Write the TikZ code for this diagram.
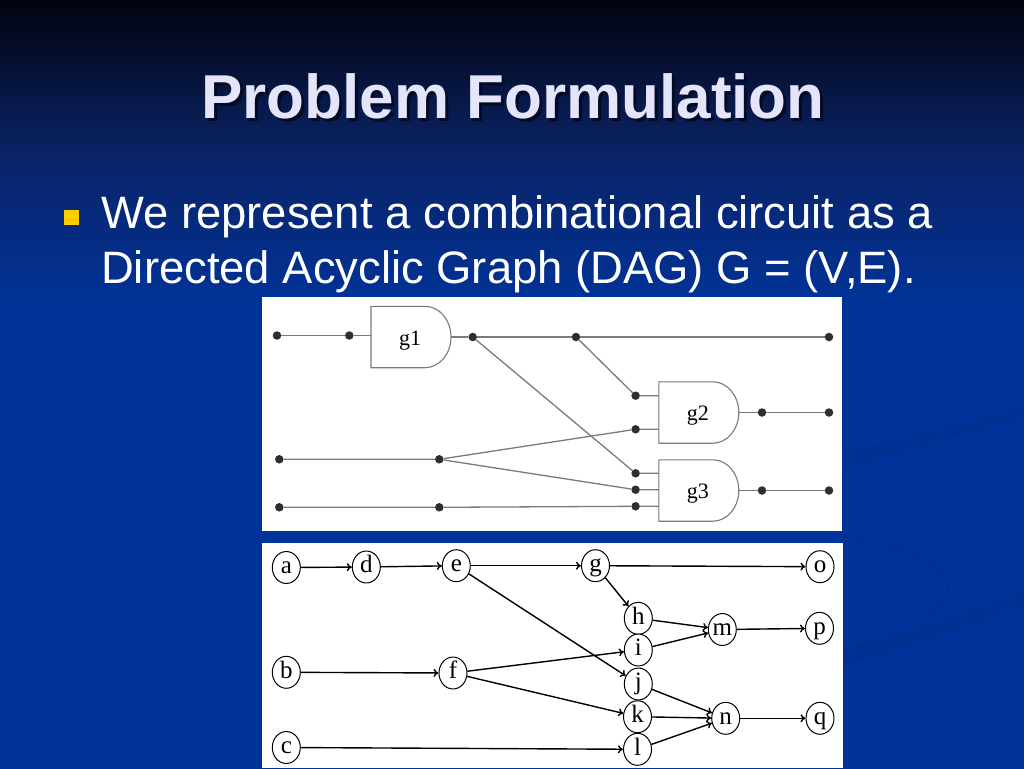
\documentclass[tikz,border=0pt]{standalone}
\usepackage{fontspec}
\setmainfont{Liberation Sans}
\newfontfamily\graphfont{Liberation Serif}
\usepackage{xcolor}
\usepackage{tikz}
\usetikzlibrary{shapes.geometric, arrows.meta, calc}
\definecolor{bgblue}{HTML}{003399}
\definecolor{bgmid}{HTML}{0B2366}
\definecolor{bgtop}{HTML}{01030F}
\definecolor{swoosh}{HTML}{002B86}
\definecolor{titlecol}{HTML}{E4E4FA}
\definecolor{shadowcol}{HTML}{020A24}
\definecolor{bulletcol}{HTML}{FFCC00}
\definecolor{wirecol}{HTML}{7A7A7A}
\definecolor{dotcol}{HTML}{2E2E2E}
\pgfdeclareverticalshading{slidebg}{100bp}{color(0bp)=(bgblue); color(25bp)=(bgblue); color(55bp)=(bgblue); color(65bp)=(bgmid); color(75bp)=(bgtop); color(100bp)=(bgtop)}

\begin{document}
\begin{tikzpicture}
  [
    x=1pt, y=-1pt,
    Title/.style={font=\bfseries\fontsize{62}{62}\selectfont, anchor=base, inner sep=0pt},
    Body/.style={font=\fontsize{45.4}{55}\selectfont, text=white, anchor=base west, inner sep=0pt},
    Dot/.style={circle, fill=dotcol, inner sep=0pt, minimum size=8.5pt},
    Wire/.style={draw=wirecol, line width=1.3pt},
    Gate/.style={draw=wirecol, line width=1.1pt, fill=white},
    GateLabel/.style={font=\graphfont\fontsize{22}{22}\selectfont, anchor=base, inner sep=0pt},
    Vertex/.style={ellipse, draw=black, line width=1pt, fill=white, minimum width=28pt, minimum height=25pt, inner sep=0pt, text height=17pt, text depth=5.6pt, font=\graphfont\fontsize{25}{25}\selectfont},
    Edge/.style={-{To[length=5pt, width=8pt]}, line width=1.4pt, black}
  ]
  \useasboundingbox (0,0) rectangle (1024,768);
  % Background
  \shade[shading=slidebg] (0,0) rectangle (1024,768);
  \fill[swoosh, opacity=0.35] (843,452) .. controls (920,434) .. (1024,408) -- (1024,417) .. controls (920,446) .. (843,470) -- cycle;
  \fill[swoosh, opacity=0.35] (843,648) .. controls (930,626) .. (1024,592) -- (1024,603) .. controls (930,640) .. (843,665) -- cycle;
  \draw[swoosh, opacity=0.25, line width=4pt] (843,537) .. controls (945,550) and (975,590) .. (922,620);
  \draw[swoosh, opacity=0.2, line width=3pt] (857,400) .. controls (880,385) .. (905,350);

  % Title and bullet
  \node[Title, text=shadowcol] (titleshadow) at (516,121) {Problem Formulation};
  \node[Title, text=titlecol] (title) at (513,118) {Problem Formulation};
  \node[fill=bulletcol, minimum size=15pt, inner sep=0pt] (bullet) at (71,217) {};
  \node[Body] (line1) at (101,228) {We represent a combinational circuit as a};
  \node[Body] (line2) at (101,283) {Directed Acyclic Graph (DAG) G = (V,E).};

  % Panels
  \fill[white] (262,297) rectangle (841.5,530.5);
  \fill[white] (261.5,543) rectangle (843,768);

  % Gates
  \foreach \n/\px/\py in {1/411/337, 2/698.8/412.5, 3/698.8/490.5} {
    \coordinate (G\n in) at (\px-40,\py);
    \coordinate (G\n out) at (\px+40,\py);
    \draw[Gate] (\px-40,\py-30.7) -- ++(54,0) arc[start angle=-90, end angle=90, x radius=26, y radius=30.7] -- ++(-54,0) -- cycle;
    \node[GateLabel] (g\n) at (\px-1,\py+8) {g\n};
  }

  % Circuit dots
  \node[Dot] (x1) at (277,335.5) {};
  \node[Dot] (x1b) at (349.3,335.5) {};
  \node[Dot] (y1) at (472.7,337) {};
  \node[Dot] (y1b) at (576,337) {};
  \node[Dot] (o1) at (829,337) {};
  \node[Dot] (g2a) at (635.6,395.7) {};
  \node[Dot] (g2b) at (635.6,429.3) {};
  \node[Dot] (g3a) at (635.6,473.3) {};
  \node[Dot] (g3b) at (635.6,489.7) {};
  \node[Dot] (g3c) at (635.6,506.3) {};
  \node[Dot] (y2) at (762,412.5) {};
  \node[Dot] (o2) at (829,412.5) {};
  \node[Dot] (y3) at (762,490.5) {};
  \node[Dot] (o3) at (829,490.5) {};
  \node[Dot] (x2) at (279.3,459.3) {};
  \node[Dot] (x2b) at (439.3,459.3) {};
  \node[Dot] (x3) at (279.3,507.3) {};
  \node[Dot] (x3b) at (439.3,507.3) {};

  % Circuit wires
  \draw[Wire] (x1) -- (x1b) -- (x1b -| G1in);
  \draw[Wire] (G1out) -- (y1) -- (y1b) -- (o1);
  \draw[Wire] (y1) -- (g3a) -- (g3a -| G3in);
  \draw[Wire] (y1b) -- (g2a) -- (g2a -| G2in);
  \draw[Wire] (x2) -- (x2b) -- (g2b) -- (g2b -| G2in);
  \draw[Wire] (x2b) -- (g3b) -- (g3b -| G3in);
  \draw[Wire] (x3) -- (x3b) -- (g3c) -- (g3c -| G3in);
  \draw[Wire] (G2out) -- (y2) -- (o2);
  \draw[Wire] (G3out) -- (y3) -- (o3);

  % Graph nodes
  \node[Vertex] (a) at (286.3,567.5) {a};
  \node[Vertex] (d) at (366.3,567) {d};
  \node[Vertex] (e) at (456.3,565.7) {e};
  \node[Vertex] (g) at (595.5,565.7) {g};
  \node[Vertex] (o) at (820,566.7) {o};
  \node[Vertex] (h) at (638.3,618.3) {h};
  \node[Vertex] (m) at (722.3,629.5) {m};
  \node[Vertex] (p) at (819.5,628.3) {p};
  \node[Vertex] (i) at (638.3,650) {i};
  \node[Vertex] (b) at (286.3,672.3) {b};
  \node[Vertex] (f) at (453,673) {f};
  \node[Vertex] (j) at (638.3,684) {j};
  \node[Vertex] (k) at (637.5,716.7) {k};
  \node[Vertex] (n) at (725.7,718.3) {n};
  \node[Vertex] (q) at (820,718.3) {q};
  \node[Vertex] (c) at (286.3,747.5) {c};
  \node[Vertex] (l) at (637.5,749.3) {l};

  % Graph edges
  \foreach \s/\t in {a/d, d/e, e/g, g/o, e/j, g/h, h/m, i/m, m/p, b/f, f/i, f/k, j/n, k/n, l/n, n/q, c/l}
    \draw[Edge] (\s) -- (\t);
\end{tikzpicture}
\end{document}
